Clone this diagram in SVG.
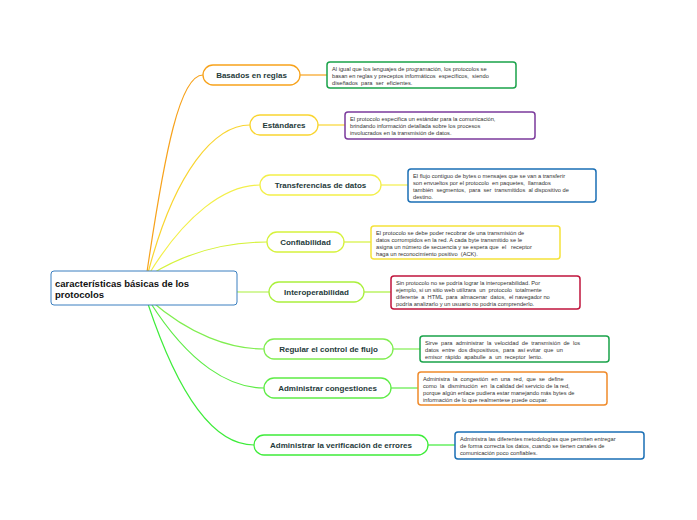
<svg xmlns="http://www.w3.org/2000/svg" width="697" height="520" viewBox="0 0 697 520">
<style>
.n{fill:#fff;stroke-width:1.3}
.nt{font-family:"Liberation Sans",Arial,sans-serif;font-size:8px;font-weight:bold;fill:#1f3b3b;text-anchor:middle}
.d{fill:#fff;stroke-width:1.5}
.dt{font-family:"Liberation Sans",Arial,sans-serif;font-size:5.7px;fill:#333;white-space:pre}
.c{fill:none;stroke-width:1.2}
</style>
<rect width="697" height="520" fill="#fff"/>
<g id="connectors">
<path class="c" stroke="#f7a21b" d="M147 272 C165 150 180 75 203 75"/>
<path class="c" stroke="#f9d530" d="M148 273 C175 170 215 125 250 125"/>
<path class="c" stroke="#f3ef4a" d="M149 274 C185 215 225 185 260 185"/>
<path class="c" stroke="#d6f23c" d="M150 275 C190 250 230 242 267 242"/>
<path class="c" stroke="#aaf03c" d="M150 290 C200 292 240 292 269 292"/>
<path class="c" stroke="#80ee50" d="M150 300 C190 335 230 349 264 349"/>
<path class="c" stroke="#5eec46" d="M150 302 C190 365 230 388 264 388"/>
<path class="c" stroke="#3eec3a" d="M148 304 C180 400 215 445 254 445"/>
<path class="c" stroke="#f7a21b" d="M300 75 H327"/>
<path class="c" stroke="#f9d530" d="M318 125 H345"/>
<path class="c" stroke="#f3ef4a" d="M381 185 H408"/>
<path class="c" stroke="#d6f23c" d="M344 242 H371"/>
<path class="c" stroke="#aaf03c" d="M364 292 H391"/>
<path class="c" stroke="#80ee50" d="M393 349 H420"/>
<path class="c" stroke="#5eec46" d="M391 388 H418"/>
<path class="c" stroke="#3eec3a" d="M428 445 H455"/>
</g>
<g id="root">
<rect x="51" y="271" width="186" height="34" rx="3" fill="#fff" stroke="#3a7fc0" stroke-width="1"/>
<text font-family="Liberation Sans,Arial,sans-serif" font-size="9.5" font-weight="bold" fill="#111"><tspan x="55" y="287">características básicas de los</tspan><tspan x="55" y="298">protocolos</tspan></text>
</g>
<g id="n1"><rect class="n" stroke="#f7a21b" x="203" y="65" width="97" height="20" rx="10"/><text class="nt" x="251.5" y="78">Basados en reglas</text></g>
<g id="n2"><rect class="n" stroke="#f9d530" x="250" y="115" width="68" height="20" rx="10"/><text class="nt" x="284" y="128">Estándares</text></g>
<g id="n3"><rect class="n" stroke="#f3ef4a" x="260" y="175" width="121" height="20" rx="10"/><text class="nt" x="320.5" y="188">Transferencias de datos</text></g>
<g id="n4"><rect class="n" stroke="#d6f23c" x="267" y="232" width="77" height="20" rx="10"/><text class="nt" x="305.5" y="245">Confiabilidad</text></g>
<g id="n5"><rect class="n" stroke="#aaf03c" x="269" y="282" width="95" height="20" rx="10"/><text class="nt" x="316.5" y="295">Interoperabilidad</text></g>
<g id="n6"><rect class="n" stroke="#80ee50" x="264" y="339" width="129" height="20" rx="10"/><text class="nt" x="328.5" y="352">Regular el control de flujo</text></g>
<g id="n7"><rect class="n" stroke="#5eec46" x="264" y="378" width="127" height="20" rx="10"/><text class="nt" x="327.5" y="391">Administrar congestiones</text></g>
<g id="n8"><rect class="n" stroke="#3eec3a" x="254" y="435" width="174" height="20" rx="10"/><text class="nt" x="341" y="448">Administrar la verificación de errores</text></g>
<g id="d1"><rect class="d" stroke="#1aa34a" x="327" y="62" width="189" height="26" rx="3"/><text class="dt"><tspan x="332" y="71">Al igual que los lenguajes de programación, los protocolos se</tspan><tspan x="332" y="78">basan en reglas y preceptos informáticos  específicos,  siendo</tspan><tspan x="332" y="85">diseñados  para  ser  eficientes.</tspan></text></g>
<g id="d2"><rect class="d" stroke="#7b3a9c" x="345" y="112" width="190" height="27" rx="3"/><text class="dt"><tspan x="350" y="121">El protocolo especifica un estándar para la comunicación,</tspan><tspan x="350" y="128">brindando información detallada sobre los procesos</tspan><tspan x="350" y="135">involucrados en la transmisión de datos.</tspan></text></g>
<g id="d3"><rect class="d" stroke="#1a6fb5" x="408" y="169" width="188" height="33" rx="3"/><text class="dt"><tspan x="413" y="178">El flujo contiguo de bytes o mensajes que se van a transferir</tspan><tspan x="413" y="185">son envueltos por el protocolo  en paquetes,  llamados</tspan><tspan x="413" y="192">también  segmentos,  para  ser  transmitidos  al dispositivo de</tspan><tspan x="413" y="199">destino.</tspan></text></g>
<g id="d4"><rect class="d" stroke="#f5e23a" x="371" y="226" width="189" height="33" rx="3"/><text class="dt"><tspan x="376" y="235">El protocolo se debe poder recobrar de una transmisión de</tspan><tspan x="376" y="242">datos corrompidos en la red. A cada byte transmitido se le</tspan><tspan x="376" y="249">asigna un número de secuencia y se espera que  el   receptor</tspan><tspan x="376" y="256">haga un reconocimiento positivo  (ACK).</tspan></text></g>
<g id="d5"><rect class="d" stroke="#c0143c" x="391" y="276" width="189" height="33" rx="3"/><text class="dt"><tspan x="396" y="285">Sin protocolo no se podría lograr la interoperabilidad. Por</tspan><tspan x="396" y="292">ejemplo, si un sitio web utilizara  un  protocolo  totalmente</tspan><tspan x="396" y="299">diferente  a  HTML  para  almacenar  datos,  el navegador no</tspan><tspan x="396" y="306">podría analizarlo y un usuario no podría comprenderlo.</tspan></text></g>
<g id="d6"><rect class="d" stroke="#1aa34a" x="420" y="336" width="189" height="26" rx="3"/><text class="dt"><tspan x="425" y="345">Sirve  para  administrar  la  velocidad  de  transmisión  de  los</tspan><tspan x="425" y="352">datos  entre  dos dispositivos,  para  así evitar  que  un</tspan><tspan x="425" y="359">emisor  rápido  apabulle  a  un  receptor  lento.</tspan></text></g>
<g id="d7"><rect class="d" stroke="#f08a2a" x="418" y="372" width="189" height="33" rx="3"/><text class="dt"><tspan x="423" y="381">Administra  la  congestión  en  una  red,  que  se  define</tspan><tspan x="423" y="388">como  la  disminución  en  la calidad del servicio de la red,</tspan><tspan x="423" y="395">porque algún enlace pudiera estar manejando más bytes de</tspan><tspan x="423" y="402">información de lo que realmentese puede ocupar.</tspan></text></g>
<g id="d8"><rect class="d" stroke="#1a6fb5" x="455" y="432" width="189" height="27" rx="3"/><text class="dt"><tspan x="460" y="441">Administra las diferentes metodologías que permiten entregar</tspan><tspan x="460" y="448">de forma correcta los datos, cuando se tienen canales de</tspan><tspan x="460" y="455">comunicación poco confiables.</tspan></text></g>
</svg>
